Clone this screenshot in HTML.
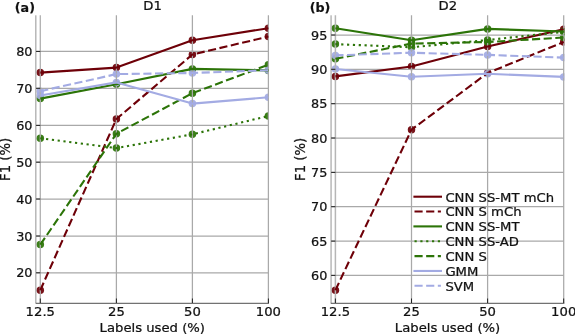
<!DOCTYPE html>
<html lang="en"><head><meta charset="utf-8"><title>F1 vs labels used</title>
<style>html,body{margin:0;padding:0;background:#fff;overflow:hidden}svg{display:block}text{font-family:"DejaVu Sans","Liberation Sans",sans-serif;font-size:12.4px;fill:#111;stroke:#111;stroke-width:0.24px}.r{font-size:13.2px}.b{font-weight:bold;font-size:12.9px;stroke-width:0.2px}</style></head><body>
<svg width="575" height="334" viewBox="0 0 575 334">
<rect width="575" height="334" fill="#fff"/>
<clipPath id="clipa"><rect x="36.1" y="15.3" width="232.9" height="287.7"/></clipPath>
<g clip-path="url(#clipa)">
<circle cx="40.3" cy="72.6" r="3.75" fill="#6e0008" fill-opacity="0.93"/>
<circle cx="116.4" cy="67.6" r="3.75" fill="#6e0008" fill-opacity="0.93"/>
<circle cx="192.4" cy="40.2" r="3.75" fill="#6e0008" fill-opacity="0.93"/>
<circle cx="268.4" cy="28.2" r="3.75" fill="#6e0008" fill-opacity="0.93"/>
<circle cx="40.3" cy="290.2" r="3.75" fill="#6e0008" fill-opacity="0.93"/>
<circle cx="116.4" cy="119" r="3.75" fill="#6e0008" fill-opacity="0.93"/>
<circle cx="192.4" cy="54.5" r="3.75" fill="#6e0008" fill-opacity="0.93"/>
<circle cx="268.4" cy="36.6" r="3.75" fill="#6e0008" fill-opacity="0.93"/>
<circle cx="40.3" cy="98.6" r="3.75" fill="#2c7408" fill-opacity="0.93"/>
<circle cx="116.4" cy="84.3" r="3.75" fill="#2c7408" fill-opacity="0.93"/>
<circle cx="192.4" cy="68.9" r="3.75" fill="#2c7408" fill-opacity="0.93"/>
<circle cx="268.4" cy="70.4" r="3.75" fill="#2c7408" fill-opacity="0.93"/>
<circle cx="40.3" cy="138.2" r="3.75" fill="#2c7408" fill-opacity="0.93"/>
<circle cx="116.4" cy="148.1" r="3.75" fill="#2c7408" fill-opacity="0.93"/>
<circle cx="192.4" cy="134.3" r="3.75" fill="#2c7408" fill-opacity="0.93"/>
<circle cx="268.4" cy="116" r="3.75" fill="#2c7408" fill-opacity="0.93"/>
<circle cx="40.3" cy="244.6" r="3.75" fill="#2c7408" fill-opacity="0.93"/>
<circle cx="116.4" cy="133.7" r="3.75" fill="#2c7408" fill-opacity="0.93"/>
<circle cx="192.4" cy="93.2" r="3.75" fill="#2c7408" fill-opacity="0.93"/>
<circle cx="268.4" cy="64.7" r="3.75" fill="#2c7408" fill-opacity="0.93"/>
<circle cx="40.3" cy="95.5" r="3.75" fill="#a3abe3" fill-opacity="0.93"/>
<circle cx="116.4" cy="82.4" r="3.75" fill="#a3abe3" fill-opacity="0.93"/>
<circle cx="192.4" cy="103.6" r="3.75" fill="#a3abe3" fill-opacity="0.93"/>
<circle cx="268.4" cy="97.3" r="3.75" fill="#a3abe3" fill-opacity="0.93"/>
<circle cx="40.3" cy="91.2" r="3.75" fill="#a3abe3" fill-opacity="0.93"/>
<circle cx="116.4" cy="74.1" r="3.75" fill="#a3abe3" fill-opacity="0.93"/>
<circle cx="192.4" cy="73" r="3.75" fill="#a3abe3" fill-opacity="0.93"/>
<circle cx="268.4" cy="70.2" r="3.75" fill="#a3abe3" fill-opacity="0.93"/>
</g>
<g stroke="#a9a9a9" stroke-width="1.25" fill="none">
<line x1="40.3" y1="15.3" x2="40.3" y2="303" stroke="#b0b0b0" stroke-width="1.3"/>
<line x1="116.4" y1="15.3" x2="116.4" y2="303"/>
<line x1="192.4" y1="15.3" x2="192.4" y2="303"/>
<line x1="268.4" y1="15.3" x2="268.4" y2="303"/>
<line x1="36.1" y1="51.45" x2="268.5" y2="51.45"/>
<line x1="36.1" y1="88.3" x2="268.5" y2="88.3"/>
<line x1="36.1" y1="125.4" x2="268.5" y2="125.4"/>
<line x1="36.1" y1="162.2" x2="268.5" y2="162.2"/>
<line x1="36.1" y1="199" x2="268.5" y2="199"/>
<line x1="36.1" y1="236" x2="268.5" y2="236"/>
<line x1="36.1" y1="272.8" x2="268.5" y2="272.8"/>
</g>
<g clip-path="url(#clipa)" fill="none" stroke-width="2.1" stroke-linejoin="round">
<polyline points="40.3,72.6 116.4,67.6 192.4,40.2 268.4,28.2" stroke="#6e0008"/>
<polyline points="40.3,290.2 116.4,119 192.4,54.5 268.4,36.6" stroke="#6e0008" stroke-dasharray="8.14,3.52"/>
<polyline points="40.3,98.6 116.4,84.3 192.4,68.9 268.4,70.4" stroke="#2c7408"/>
<polyline points="40.3,138.2 116.4,148.1 192.4,134.3 268.4,116" stroke="#2c7408" stroke-dasharray="2.20,3.63"/>
<polyline points="40.3,244.6 116.4,133.7 192.4,93.2 268.4,64.7" stroke="#2c7408" stroke-dasharray="8.14,3.52"/>
<polyline points="40.3,95.5 116.4,82.4 192.4,103.6 268.4,97.3" stroke="#a3abe3"/>
<polyline points="40.3,91.2 116.4,74.1 192.4,73 268.4,70.2" stroke="#a3abe3" stroke-dasharray="8.14,3.52"/>
</g>
<line x1="35.85" y1="15.3" x2="35.85" y2="303" stroke="#8e8e8e" stroke-width="0.95"/>
<line x1="35.6" y1="303.3" x2="269" y2="303.3" stroke="#444" stroke-width="0.95"/>
<g stroke="#222" stroke-width="1">
<line x1="40.3" y1="298.5" x2="40.3" y2="303"/>
<line x1="116.4" y1="298.5" x2="116.4" y2="303"/>
<line x1="192.4" y1="298.5" x2="192.4" y2="303"/>
<line x1="268.4" y1="298.5" x2="268.4" y2="303"/>
<line x1="36.1" y1="51.45" x2="40.3" y2="51.45"/>
<line x1="36.1" y1="88.3" x2="40.3" y2="88.3"/>
<line x1="36.1" y1="125.4" x2="40.3" y2="125.4"/>
<line x1="36.1" y1="162.2" x2="40.3" y2="162.2"/>
<line x1="36.1" y1="199" x2="40.3" y2="199"/>
<line x1="36.1" y1="236" x2="40.3" y2="236"/>
<line x1="36.1" y1="272.8" x2="40.3" y2="272.8"/>
</g>
<text transform="translate(40.3,315.9) scale(1.065,1)" text-anchor="middle">12.5</text>
<text transform="translate(116.4,315.9) scale(1.065,1)" text-anchor="middle">25</text>
<text transform="translate(192.4,315.9) scale(1.065,1)" text-anchor="middle">50</text>
<text transform="translate(268.4,315.9) scale(1.065,1)" text-anchor="middle">100</text>
<text transform="translate(32.5,56.05) scale(1.035,1)" text-anchor="end">80</text>
<text transform="translate(32.5,92.9) scale(1.035,1)" text-anchor="end">70</text>
<text transform="translate(32.5,130) scale(1.035,1)" text-anchor="end">60</text>
<text transform="translate(32.5,166.8) scale(1.035,1)" text-anchor="end">50</text>
<text transform="translate(32.5,203.6) scale(1.035,1)" text-anchor="end">40</text>
<text transform="translate(32.5,240.6) scale(1.035,1)" text-anchor="end">30</text>
<text transform="translate(32.5,277.4) scale(1.035,1)" text-anchor="end">20</text>
<text transform="translate(152.5,9.9) scale(1.065,1)" text-anchor="middle">D1</text>
<text transform="translate(14.8,12.45) scale(0.985,1)" class="b">(a)</text>
<text transform="translate(152.3,331.6) scale(1.065,1)" text-anchor="middle">Labels used (%)</text>
<text transform="translate(10.1,159.4) rotate(-90) scale(1,1)" text-anchor="middle" class="r">F1 (%)</text>
<clipPath id="clipb"><rect x="331.2" y="15.3" width="233.2" height="287.7"/></clipPath>
<g clip-path="url(#clipb)">
<circle cx="335.4" cy="76.4" r="3.75" fill="#6e0008" fill-opacity="0.93"/>
<circle cx="411.5" cy="66.5" r="3.75" fill="#6e0008" fill-opacity="0.93"/>
<circle cx="487.6" cy="46.4" r="3.75" fill="#6e0008" fill-opacity="0.93"/>
<circle cx="563.7" cy="29.3" r="3.75" fill="#6e0008" fill-opacity="0.93"/>
<circle cx="335.4" cy="290.2" r="3.75" fill="#6e0008" fill-opacity="0.93"/>
<circle cx="411.5" cy="129.7" r="3.75" fill="#6e0008" fill-opacity="0.93"/>
<circle cx="487.6" cy="73" r="3.75" fill="#6e0008" fill-opacity="0.93"/>
<circle cx="563.7" cy="42" r="3.75" fill="#6e0008" fill-opacity="0.93"/>
<circle cx="335.4" cy="28.2" r="3.75" fill="#2c7408" fill-opacity="0.93"/>
<circle cx="411.5" cy="40.3" r="3.75" fill="#2c7408" fill-opacity="0.93"/>
<circle cx="487.6" cy="28.9" r="3.75" fill="#2c7408" fill-opacity="0.93"/>
<circle cx="563.7" cy="31.5" r="3.75" fill="#2c7408" fill-opacity="0.93"/>
<circle cx="335.4" cy="44.1" r="3.75" fill="#2c7408" fill-opacity="0.93"/>
<circle cx="411.5" cy="47.3" r="3.75" fill="#2c7408" fill-opacity="0.93"/>
<circle cx="487.6" cy="40" r="3.75" fill="#2c7408" fill-opacity="0.93"/>
<circle cx="563.7" cy="31.8" r="3.75" fill="#2c7408" fill-opacity="0.93"/>
<circle cx="335.4" cy="58.8" r="3.75" fill="#2c7408" fill-opacity="0.93"/>
<circle cx="411.5" cy="43.6" r="3.75" fill="#2c7408" fill-opacity="0.93"/>
<circle cx="487.6" cy="42" r="3.75" fill="#2c7408" fill-opacity="0.93"/>
<circle cx="563.7" cy="37.5" r="3.75" fill="#2c7408" fill-opacity="0.93"/>
<circle cx="335.4" cy="69" r="3.75" fill="#a3abe3" fill-opacity="0.93"/>
<circle cx="411.5" cy="76.8" r="3.75" fill="#a3abe3" fill-opacity="0.93"/>
<circle cx="487.6" cy="73.8" r="3.75" fill="#a3abe3" fill-opacity="0.93"/>
<circle cx="563.7" cy="76.9" r="3.75" fill="#a3abe3" fill-opacity="0.93"/>
<circle cx="335.4" cy="55.4" r="3.75" fill="#a3abe3" fill-opacity="0.93"/>
<circle cx="411.5" cy="52.7" r="3.75" fill="#a3abe3" fill-opacity="0.93"/>
<circle cx="487.6" cy="54.9" r="3.75" fill="#a3abe3" fill-opacity="0.93"/>
<circle cx="563.7" cy="57.6" r="3.75" fill="#a3abe3" fill-opacity="0.93"/>
</g>
<g stroke="#a9a9a9" stroke-width="1.25" fill="none">
<line x1="335.4" y1="15.3" x2="335.4" y2="303" stroke="#b6b6b6" stroke-width="1.5"/>
<line x1="411.5" y1="15.3" x2="411.5" y2="303"/>
<line x1="487.6" y1="15.3" x2="487.6" y2="303"/>
<line x1="563.7" y1="15.3" x2="563.7" y2="303"/>
<line x1="331.2" y1="35" x2="563.9" y2="35"/>
<line x1="331.2" y1="69.3" x2="563.9" y2="69.3"/>
<line x1="331.2" y1="103.7" x2="563.9" y2="103.7"/>
<line x1="331.2" y1="138" x2="563.9" y2="138"/>
<line x1="331.2" y1="172.4" x2="563.9" y2="172.4"/>
<line x1="331.2" y1="206.7" x2="563.9" y2="206.7"/>
<line x1="331.2" y1="241.1" x2="563.9" y2="241.1"/>
<line x1="331.2" y1="275.4" x2="563.9" y2="275.4"/>
</g>
<g clip-path="url(#clipb)" fill="none" stroke-width="2.1" stroke-linejoin="round">
<polyline points="335.4,76.4 411.5,66.5 487.6,46.4 563.7,29.3" stroke="#6e0008"/>
<polyline points="335.4,290.2 411.5,129.7 487.6,73 563.7,42" stroke="#6e0008" stroke-dasharray="8.14,3.52"/>
<polyline points="335.4,28.2 411.5,40.3 487.6,28.9 563.7,31.5" stroke="#2c7408"/>
<polyline points="335.4,44.1 411.5,47.3 487.6,40 563.7,31.8" stroke="#2c7408" stroke-dasharray="2.20,3.63"/>
<polyline points="335.4,58.8 411.5,43.6 487.6,42 563.7,37.5" stroke="#2c7408" stroke-dasharray="8.14,3.52"/>
<polyline points="335.4,69 411.5,76.8 487.6,73.8 563.7,76.9" stroke="#a3abe3"/>
<polyline points="335.4,55.4 411.5,52.7 487.6,54.9 563.7,57.6" stroke="#a3abe3" stroke-dasharray="8.14,3.52"/>
</g>
<line x1="331.05" y1="15.3" x2="331.05" y2="303" stroke="#8e8e8e" stroke-width="0.95"/>
<line x1="330.7" y1="303.3" x2="564.4" y2="303.3" stroke="#444" stroke-width="0.95"/>
<g stroke="#222" stroke-width="1">
<line x1="335.4" y1="298.5" x2="335.4" y2="303"/>
<line x1="411.5" y1="298.5" x2="411.5" y2="303"/>
<line x1="487.6" y1="298.5" x2="487.6" y2="303"/>
<line x1="563.7" y1="298.5" x2="563.7" y2="303"/>
<line x1="331.2" y1="35" x2="335.4" y2="35"/>
<line x1="331.2" y1="69.3" x2="335.4" y2="69.3"/>
<line x1="331.2" y1="103.7" x2="335.4" y2="103.7"/>
<line x1="331.2" y1="138" x2="335.4" y2="138"/>
<line x1="331.2" y1="172.4" x2="335.4" y2="172.4"/>
<line x1="331.2" y1="206.7" x2="335.4" y2="206.7"/>
<line x1="331.2" y1="241.1" x2="335.4" y2="241.1"/>
<line x1="331.2" y1="275.4" x2="335.4" y2="275.4"/>
</g>
<text transform="translate(335.4,315.9) scale(1.065,1)" text-anchor="middle">12.5</text>
<text transform="translate(411.5,315.9) scale(1.065,1)" text-anchor="middle">25</text>
<text transform="translate(487.6,315.9) scale(1.065,1)" text-anchor="middle">50</text>
<text transform="translate(563.7,315.9) scale(1.065,1)" text-anchor="middle">100</text>
<text transform="translate(327.4,39.6) scale(1.035,1)" text-anchor="end">95</text>
<text transform="translate(327.4,73.9) scale(1.035,1)" text-anchor="end">90</text>
<text transform="translate(327.4,108.3) scale(1.035,1)" text-anchor="end">85</text>
<text transform="translate(327.4,142.6) scale(1.035,1)" text-anchor="end">80</text>
<text transform="translate(327.4,177) scale(1.035,1)" text-anchor="end">75</text>
<text transform="translate(327.4,211.3) scale(1.035,1)" text-anchor="end">70</text>
<text transform="translate(327.4,245.7) scale(1.035,1)" text-anchor="end">65</text>
<text transform="translate(327.4,280) scale(1.035,1)" text-anchor="end">60</text>
<text transform="translate(447.75,9.9) scale(1.065,1)" text-anchor="middle">D2</text>
<text transform="translate(309.7,12.45) scale(0.985,1)" class="b">(b)</text>
<text transform="translate(447.55,331.6) scale(1.065,1)" text-anchor="middle">Labels used (%)</text>
<text transform="translate(305.2,159.4) rotate(-90) scale(1,1)" text-anchor="middle" class="r">F1 (%)</text>
<g fill="none" stroke-width="2.1">
<line x1="413.4" y1="196.7" x2="442.0" y2="196.7" stroke="#6e0008"/>
<line x1="414.5" y1="211.55" x2="440.9" y2="211.55" stroke="#6e0008" stroke-dasharray="8.14,3.52"/>
<line x1="413.4" y1="226.4" x2="442.0" y2="226.4" stroke="#2c7408"/>
<line x1="414.5" y1="241.25" x2="440.9" y2="241.25" stroke="#2c7408" stroke-dasharray="2.20,3.63"/>
<line x1="414.5" y1="256.1" x2="440.9" y2="256.1" stroke="#2c7408" stroke-dasharray="8.14,3.52"/>
<line x1="413.4" y1="270.95" x2="442.0" y2="270.95" stroke="#a3abe3"/>
<line x1="414.5" y1="285.8" x2="440.9" y2="285.8" stroke="#a3abe3" stroke-dasharray="8.14,3.52"/>
</g>
<text transform="translate(445.4,201.5) scale(1.065,1)">CNN SS-MT mCh</text>
<text transform="translate(445.4,216.35) scale(1.065,1)">CNN S mCh</text>
<text transform="translate(445.4,231.2) scale(1.065,1)">CNN SS-MT</text>
<text transform="translate(445.4,246.05) scale(1.065,1)">CNN SS-AD</text>
<text transform="translate(445.4,260.9) scale(1.065,1)">CNN S</text>
<text transform="translate(445.4,275.75) scale(1.065,1)">GMM</text>
<text transform="translate(445.4,290.6) scale(1.065,1)">SVM</text>
</svg></body></html>
